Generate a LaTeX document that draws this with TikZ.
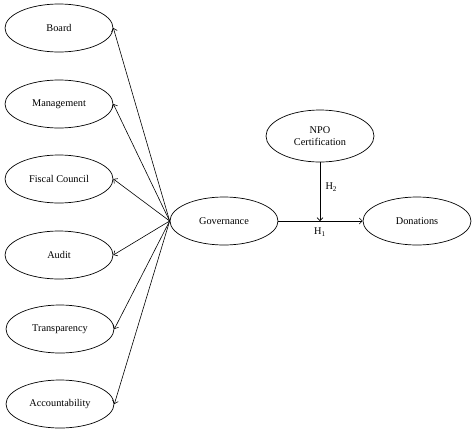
\documentclass[tikz,border=0pt]{standalone}
\usepackage{fontspec}
\setmainfont{Liberation Serif}
\usetikzlibrary{shapes.geometric,arrows.meta}

\begin{document}
\begin{tikzpicture}[x=1pt,y=-1pt,
    construct/.style={draw,ellipse,line width=0.7pt,minimum width=108pt,minimum height=48pt,inner sep=0pt,align=center,font=\fontsize{10.3}{11.5}\selectfont},
    link/.style={-{Straight Barb[length=3pt,width=6pt]},line width=0.6pt}]
        \useasboundingbox (0,0) rectangle (474,437);
        \node[construct] (board) at (59,28) {Board};
        \node[construct] (mgmt) at (59,104) {Management};
        \node[construct] (fiscal) at (59,179) {Fiscal Council};
        \node[construct] (audit) at (59,255) {Audit};
        \node[construct] (transp) at (60,329) {Transparency};
        \node[construct] (account) at (60,404) {Accountability};
        \node[construct] (gov) at (224,221) {Governance};
        \node[construct] (don) at (417,221) {Donations};
        \node[construct,minimum height=52pt] (npo) at (320,136) {NPO\\Certification};
        \coordinate (m) at (gov.east -| npo.south);
        \foreach \x in {board,mgmt,fiscal,audit,transp,account}
            \draw[link] (gov.west) -- (\x.east);
        \draw[link] (gov) -- (don);
        \draw[link] (npo) -- (m);
        \node[font=\fontsize{10.3}{11.5}\selectfont,anchor=west] (h2) at (322,187) {H\textsubscript{2}};
        \node[font=\fontsize{10.3}{11.5}\selectfont] (h1) at (320,232) {H\textsubscript{1}};
    \end{tikzpicture}
\end{document}
